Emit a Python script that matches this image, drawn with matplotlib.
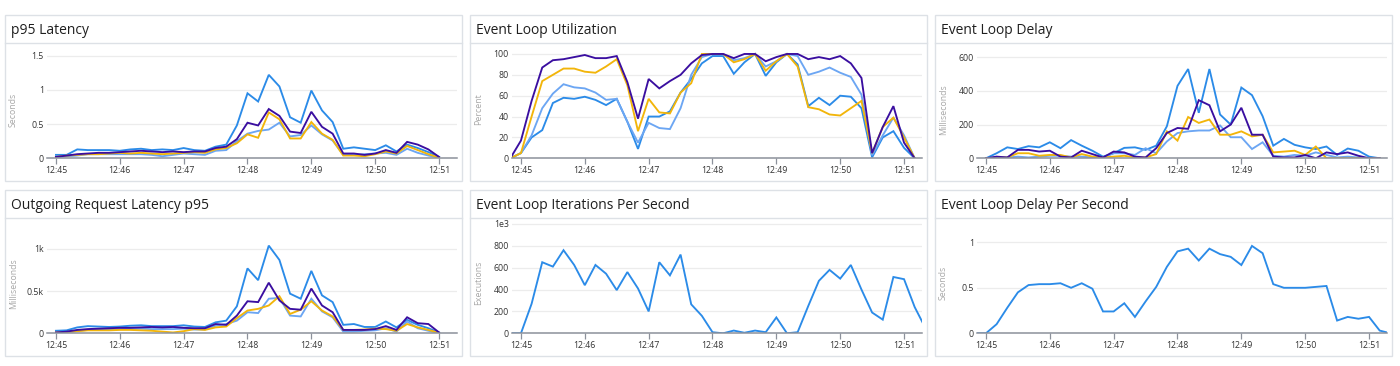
import numpy as np
import matplotlib.pyplot as plt
from matplotlib.patches import Rectangle
from matplotlib.lines import Line2D

plt.rcParams['font.family'] = ['Open Sans', 'DejaVu Sans']

# x tick labels, one per minute (ticks at 0, 60, ... seconds after 12:45)
tick_labels = ['12:45', '12:46', '12:47', '12:48', '12:49', '12:50', '12:51']

# p95 latency, seconds, every 10 s from 12:45:00
p95_blue = [0.05, 0.05, 0.13, 0.12, 0.12, 0.12, 0.11, 0.13, 0.14, 0.12, 0.13, 0.12, 0.15,
            0.12, 0.11, 0.17, 0.20, 0.48, 0.95, 0.83, 1.22, 1.05, 0.60, 0.52, 0.99, 0.70,
            0.53, 0.14, 0.16, 0.14, 0.12, 0.19, 0.10, 0.20, 0.15, 0.09, 0.02]
p95_indigo = [0.02, 0.04, 0.06, 0.07, 0.08, 0.08, 0.09, 0.10, 0.11, 0.10, 0.09, 0.10, 0.09,
              0.10, 0.10, 0.15, 0.17, 0.28, 0.52, 0.48, 0.72, 0.62, 0.39, 0.37, 0.68, 0.46,
              0.36, 0.07, 0.07, 0.05, 0.07, 0.12, 0.08, 0.24, 0.20, 0.13, 0.02]
p95_gold = [0.02, 0.04, 0.05, 0.06, 0.06, 0.07, 0.08, 0.07, 0.08, 0.07, 0.06, 0.07, 0.08,
            0.09, 0.08, 0.13, 0.15, 0.22, 0.35, 0.30, 0.67, 0.57, 0.29, 0.29, 0.53, 0.36,
            0.27, 0.04, 0.04, 0.03, 0.06, 0.10, 0.07, 0.18, 0.12, 0.06, 0.01]
p95_light = [0.02, 0.03, 0.04, 0.06, 0.06, 0.06, 0.06, 0.06, 0.06, 0.05, 0.03, 0.05, 0.07,
             0.06, 0.05, 0.11, 0.12, 0.25, 0.36, 0.40, 0.42, 0.52, 0.32, 0.34, 0.48, 0.35,
             0.26, 0.05, 0.05, 0.06, 0.07, 0.08, 0.05, 0.14, 0.08, 0.04, 0.01]

# event loop utilization, percent, every 10 s from 12:44:50
elu_indigo = [0, 17, 55, 87, 94, 95, 97, 99, 96, 96, 98, 73, 38, 76, 67, 74, 80, 91, 99,
              100, 100, 96, 100, 100, 93, 97, 100, 100, 95, 97, 95, 98, 91, 77, 5, 30, 50, 15, 0]
elu_gold = [0, 5, 40, 74, 80, 86, 86, 83, 82, 88, 95, 70, 26, 57, 44, 43, 63, 72, 100,
            100, 100, 92, 95, 100, 84, 93, 100, 88, 49, 47, 42, 41, 48, 55, 5, 30, 39, 20, 0]
elu_blue = [0, 5, 20, 27, 53, 58, 57, 59, 56, 51, 57, 35, 9, 40, 40, 45, 63, 76, 91,
            98, 98, 81, 92, 100, 79, 92, 100, 90, 50, 58, 51, 60, 59, 48, 1, 20, 26, 10, 0]
elu_light = [0, 5, 22, 48, 62, 71, 68, 67, 63, 56, 57, 35, 15, 34, 29, 28, 48, 80, 97,
             100, 100, 94, 96, 100, 88, 93, 100, 98, 80, 83, 87, 82, 78, 61, 3, 22, 39, 22, 0]

# event loop delay, ms, every 10 s from 12:45:00
eld_blue = [0, 30, 65, 55, 72, 65, 95, 60, 108, 75, 45, 10, 30, 62, 65, 50, 75, 190, 430,
            530, 270, 530, 260, 200, 420, 375, 250, 75, 115, 80, 65, 55, 70, 20, 58, 45, 10, 0]
eld_indigo = [0, 10, 5, 50, 50, 40, 45, 10, 5, 45, 25, 5, 40, 35, 10, 5, 60, 150, 180,
              175, 345, 315, 160, 200, 300, 140, 140, 10, 5, 5, 20, 0, 35, 25, 35, 15, 0, 0]
eld_gold = [0, 5, 5, 30, 30, 15, 20, 20, 5, 25, 10, 5, 10, 15, 5, 5, 25, 160, 105,
            245, 210, 230, 140, 140, 160, 130, 140, 35, 40, 45, 20, 70, 0, 0, 0, 0, 0, 0]
eld_light = [0, 5, 5, 10, 5, 10, 15, 15, 10, 10, 5, 5, 30, 30, 20, 60, 30, 100, 150,
             160, 165, 165, 195, 125, 125, 55, 95, 15, 10, 20, 15, 35, 20, 5, 10, 5, 0, 0]

# outgoing request latency p95, ms, every 10 s from 12:45:00
orl_blue = [30, 35, 70, 85, 80, 75, 80, 90, 95, 85, 85, 85, 95, 80, 75, 130, 150, 320, 770,
            630, 1040, 870, 470, 410, 740, 450, 370, 100, 110, 75, 75, 140, 70, 160, 100, 60, 10]
orl_indigo = [10, 20, 40, 50, 55, 60, 65, 65, 70, 75, 70, 75, 65, 60, 60, 110, 100, 210, 380,
              370, 600, 390, 290, 280, 530, 330, 250, 40, 40, 40, 50, 85, 40, 190, 120, 110, 10]
orl_gold = [10, 15, 25, 35, 35, 35, 40, 40, 35, 30, 20, 10, 25, 50, 40, 70, 80, 180, 270,
            290, 330, 440, 230, 280, 380, 270, 200, 40, 40, 45, 55, 50, 30, 110, 70, 40, 5]
orl_light = [10, 15, 30, 40, 40, 40, 50, 55, 55, 50, 50, 50, 55, 45, 45, 90, 110, 150, 250,
             240, 410, 420, 210, 200, 410, 260, 190, 20, 20, 30, 35, 60, 20, 140, 60, 30, 5]

# event loop iterations per second, every 10 s from 12:44:50
eli = [0, 0, 270, 650, 610, 760, 625, 440, 625, 545, 395, 560, 410, 200, 650, 530, 720,
       265, 160, 10, 0, 25, 5, 25, 10, 145, 0, 10, 250, 480, 580, 500, 625, 400, 190, 125,
       515, 495, 240, 50]

# event loop delay per second, seconds, every 10 s from 12:44:50
eldps = [0, 0, 0.10, 0.28, 0.45, 0.53, 0.54, 0.54, 0.55, 0.50, 0.55, 0.49, 0.24, 0.24,
         0.33, 0.18, 0.35, 0.51, 0.73, 0.90, 0.93, 0.80, 0.93, 0.87, 0.84, 0.75, 0.96, 0.88,
         0.54, 0.50, 0.50, 0.50, 0.51, 0.52, 0.14, 0.18, 0.16, 0.18, 0.03, 0.0]

BLUE = '#2b8be8'
INDIGO = '#3a0ea0'
GOLD = '#f2b50a'
LIGHT = '#6ca6f3'
GRID = '#ececec'
AXIS = '#8c919b'
BORDER = '#dde1e6'

W, H = 1400, 366
fig = plt.figure(figsize=(W / 100, H / 100), dpi=100)


def secs(n, start):
    return np.arange(n) * 10 + start


def panel(col, row, title, ylabel, ymax, yticks, yticklabels, series):
    bx = [5, 470, 935][col]
    by0, by1 = [(15, 181), (190, 356)][row]
    # card border and title separator
    fig.add_artist(Rectangle((bx / W, 1 - by1 / H), 457 / W, (by1 - by0) / H,
                             transform=fig.transFigure, fill=False, ec=BORDER, lw=1))
    sep = by0 + 28
    fig.add_artist(Line2D([bx / W, (bx + 457) / W], [1 - sep / H, 1 - sep / H],
                          transform=fig.transFigure, color=BORDER, lw=1))
    fig.text((bx + 6) / W, 1 - (by0 + 16) / H, title, fontsize=10, color='#1f1f1f',
             va='center', ha='left')

    top, bot = [(50, 158.3), (222, 333.3)][row]
    ax = fig.add_axes([(bx + 41.7) / W, 1 - bot / H, 410 / W, (bot - top) / H])
    for ys, start, c in series:
        ax.plot(secs(len(ys), start), ys, color=c, lw=1.35, solid_joinstyle='miter')
    ax.set_xlim(-8.7, 376.6)
    ax.set_ylim(0, ymax)
    ax.set_xticks(np.arange(0, 361, 60))
    ax.set_xticklabels(tick_labels)
    ax.set_yticks(yticks)
    ax.set_yticklabels(yticklabels)
    ax.grid(axis='y', color=GRID, lw=0.9)
    ax.set_axisbelow(True)
    for s in ['top', 'right', 'left']:
        ax.spines[s].set_visible(False)
    ax.spines['bottom'].set_color(AXIS)
    ax.spines['bottom'].set_linewidth(1.1)
    ax.tick_params(axis='x', length=4, width=0.9, color=AXIS, labelsize=6.3,
                   labelcolor='#333333', pad=1.5)
    ax.tick_params(axis='y', length=0, labelsize=6.3, labelcolor='#333333', pad=2)
    ax.set_ylabel(ylabel, fontsize=6.3, color='#a8a8a8')
    ax.yaxis.set_label_coords(-0.07, 0.45)
    ax.patch.set_alpha(0)
    return ax


panel(0, 0, 'p95 Latency', 'Seconds', 1.583, [0, 0.5, 1, 1.5], ['0', '0.5', '1', '1.5'],
      [(p95_blue, 0, BLUE), (p95_light, 0, LIGHT), (p95_gold, 0, GOLD), (p95_indigo, 0, INDIGO)])
panel(1, 0, 'Event Loop Utilization', 'Percent', 103.8, [0, 20, 40, 60, 80, 100],
      ['0', '20', '40', '60', '80', '100'],
      [(elu_blue, -10, BLUE), (elu_light, -10, LIGHT), (elu_gold, -10, GOLD),
       (elu_indigo, -10, INDIGO)])
panel(2, 0, 'Event Loop Delay', 'Milliseconds', 643, [0, 200, 400, 600],
      ['0', '200', '400', '600'],
      [(eld_blue, 0, BLUE), (eld_light, 0, LIGHT), (eld_gold, 0, GOLD), (eld_indigo, 0, INDIGO)])
panel(0, 1, 'Outgoing Request Latency p95', 'Milliseconds', 1320, [0, 500, 1000],
      ['0', '0.5k', '1k'],
      [(orl_blue, 0, BLUE), (orl_light, 0, LIGHT), (orl_gold, 0, GOLD), (orl_indigo, 0, INDIGO)])
panel(1, 1, 'Event Loop Iterations Per Second', 'Executions', 1018,
      [0, 200, 400, 600, 800, 1000], ['0', '200', '400', '600', '800', '1e3'],
      [(eli, -10, BLUE)])
panel(2, 1, 'Event Loop Delay Per Second', 'Seconds', 1.223, [0, 0.5, 1], ['0', '0.5', '1'],
      [(eldps, -10, BLUE)])

fig.savefig('out.png', dpi=100)
